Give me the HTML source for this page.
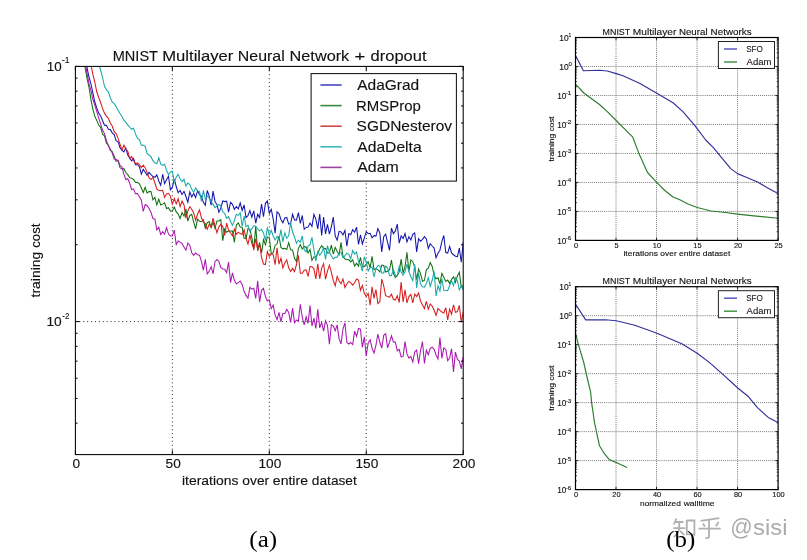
<!DOCTYPE html>
<html><head><meta charset="utf-8"><style>
html,body{margin:0;padding:0;background:#fff;width:807px;height:560px;overflow:hidden}
svg{display:block;will-change:transform}
text{font-family:"Liberation Sans", sans-serif}
</style></head><body>
<svg width="807" height="560" viewBox="0 0 807 560">
<rect x="0" y="0" width="807" height="560" fill="#fff"/>
<g stroke="#222" stroke-width="0.9" stroke-dasharray="1.1 2.8" fill="none"><line x1="172.35" y1="66.4" x2="172.35" y2="454.6"/><line x1="269.30" y1="66.4" x2="269.30" y2="454.6"/><line x1="366.25" y1="66.4" x2="366.25" y2="454.6"/><line x1="75.4" y1="321.60" x2="463.2" y2="321.60"/></g>
<clipPath id="cl"><rect x="75.4" y="66.4" width="387.79999999999995" height="388.20000000000005"/></clipPath>
<g clip-path="url(#cl)" fill="none" stroke-width="1.05" stroke-linejoin="miter">
<polyline points="75.40,2.68 77.34,14.10 79.28,24.73 81.22,34.99 83.16,45.98 85.09,56.49 87.03,67.72 88.97,77.00 90.91,83.76 92.85,92.89 94.79,102.01 96.73,107.88 98.67,113.09 100.61,115.81 102.55,120.44 104.48,125.22 106.42,125.37 108.36,129.35 110.30,129.51 112.24,132.85 114.18,134.61 116.12,140.62 118.06,141.85 120.00,147.65 121.94,150.21 123.88,151.91 125.81,147.98 127.75,155.15 129.69,158.01 131.63,160.86 133.57,158.55 135.51,164.64 137.45,164.68 139.39,166.69 141.33,174.12 143.26,169.27 145.20,172.21 147.14,175.36 149.08,172.42 151.02,174.62 152.96,176.56 154.90,177.31 156.84,174.88 158.78,180.98 160.72,185.30 162.65,174.22 164.59,183.64 166.53,179.69 168.47,176.25 170.41,189.87 172.35,187.35 174.29,179.24 176.23,186.52 178.17,192.66 180.11,190.52 182.04,194.42 183.98,191.40 185.92,196.46 187.86,202.20 189.80,191.90 191.74,197.02 193.68,193.43 195.62,197.55 197.56,190.68 199.50,194.72 201.44,195.99 203.37,202.34 205.31,205.21 207.25,190.53 209.19,196.02 211.13,205.21 213.07,191.18 215.01,201.47 216.95,204.59 218.89,212.28 220.82,208.17 222.76,201.03 224.70,201.62 226.64,201.07 228.58,212.06 230.52,202.27 232.46,204.29 234.40,209.31 236.34,206.53 238.28,208.88 240.21,202.88 242.15,210.47 244.09,205.01 246.03,217.66 247.97,215.53 249.91,210.62 251.85,217.09 253.79,210.93 255.73,223.10 257.67,214.27 259.60,217.62 261.54,204.04 263.48,216.74 265.42,203.33 267.36,201.03 269.30,213.25 271.24,209.30 273.18,218.94 275.12,233.14 277.06,211.77 279.00,213.58 280.93,219.50 282.87,222.73 284.81,217.96 286.75,217.50 288.69,224.09 290.63,223.44 292.57,214.28 294.51,219.94 296.45,220.14 298.38,212.55 300.32,223.36 302.26,215.49 304.20,229.27 306.14,227.44 308.08,227.14 310.02,223.13 311.96,226.25 313.90,214.37 315.84,219.15 317.77,228.82 319.71,213.99 321.65,235.43 323.59,217.17 325.53,233.92 327.47,224.30 329.41,234.24 331.35,226.85 333.29,216.99 335.23,236.10 337.16,240.13 339.10,231.34 341.04,231.94 342.98,234.95 344.92,230.47 346.86,246.25 348.80,233.64 350.74,234.65 352.68,229.67 354.62,232.20 356.55,227.07 358.49,244.50 360.43,234.79 362.37,243.91 364.31,237.93 366.25,231.72 368.19,233.71 370.13,233.32 372.07,237.85 374.01,235.63 375.94,236.07 377.88,228.64 379.82,232.94 381.76,251.89 383.70,236.67 385.64,234.25 387.58,242.26 389.52,250.39 391.46,228.08 393.40,233.68 395.33,231.15 397.27,224.06 399.21,243.23 401.15,235.99 403.09,238.40 405.03,233.53 406.97,241.93 408.91,236.69 410.85,240.00 412.79,234.33 414.72,232.95 416.66,251.87 418.60,238.64 420.54,241.31 422.48,239.42 424.42,236.68 426.36,238.98 428.30,248.55 430.24,243.77 432.18,245.99 434.11,248.08 436.05,257.67 437.99,253.18 439.93,250.18 441.87,241.65 443.81,235.44 445.75,252.52 447.69,253.07 449.63,246.41 451.57,253.01 453.50,254.74 455.44,256.23 457.38,256.73 459.32,248.16 461.26,262.22 463.20,242.32" stroke="#1414b0"/>
<polyline points="75.40,-2.84 77.34,12.20 79.28,25.52 81.22,38.22 83.16,52.40 85.09,67.72 87.03,78.33 88.97,87.12 90.91,99.38 92.85,108.83 94.79,116.26 96.73,120.34 98.67,125.03 100.61,127.32 102.55,134.22 104.48,135.78 106.42,143.19 108.36,144.95 110.30,150.49 112.24,151.58 114.18,156.08 116.12,161.28 118.06,160.61 120.00,167.77 121.94,168.92 123.88,168.65 125.81,172.55 127.75,174.69 129.69,177.63 131.63,178.19 133.57,179.38 135.51,182.52 137.45,182.35 139.39,183.87 141.33,187.96 143.26,192.53 145.20,187.36 147.14,193.06 149.08,191.41 151.02,191.70 152.96,199.82 154.90,197.34 156.84,204.89 158.78,199.17 160.72,205.04 162.65,204.11 164.59,202.72 166.53,208.51 168.47,207.70 170.41,211.24 172.35,210.72 174.29,207.10 176.23,211.93 178.17,214.06 180.11,218.45 182.04,212.59 183.98,216.04 185.92,208.90 187.86,221.15 189.80,215.46 191.74,214.25 193.68,222.23 195.62,228.96 197.56,219.09 199.50,221.28 201.44,221.75 203.37,219.59 205.31,228.28 207.25,222.69 209.19,221.49 211.13,227.61 213.07,222.39 215.01,228.36 216.95,220.99 218.89,220.90 220.82,219.58 222.76,240.70 224.70,228.94 226.64,232.21 228.58,230.76 230.52,231.10 232.46,231.14 234.40,242.38 236.34,224.89 238.28,223.00 240.21,227.04 242.15,227.29 244.09,238.22 246.03,238.59 247.97,228.75 249.91,229.35 251.85,237.95 253.79,249.22 255.73,226.32 257.67,250.97 259.60,242.33 261.54,252.86 263.48,239.63 265.42,244.76 267.36,236.83 269.30,237.52 271.24,253.76 273.18,252.59 275.12,245.47 277.06,243.77 279.00,236.07 280.93,247.42 282.87,248.83 284.81,248.40 286.75,249.48 288.69,242.64 290.63,249.84 292.57,250.13 294.51,258.25 296.45,261.50 298.38,248.30 300.32,244.76 302.26,248.92 304.20,246.66 306.14,247.07 308.08,252.94 310.02,249.49 311.96,260.39 313.90,256.80 315.84,257.25 317.77,253.39 319.71,248.70 321.65,245.76 323.59,248.49 325.53,248.57 327.47,252.99 329.41,252.96 331.35,245.06 333.29,254.00 335.23,247.40 337.16,251.56 339.10,254.78 341.04,242.41 342.98,256.35 344.92,259.06 346.86,259.40 348.80,259.83 350.74,261.93 352.68,259.73 354.62,266.06 356.55,263.27 358.49,266.10 360.43,257.28 362.37,266.31 364.31,266.60 366.25,264.13 368.19,261.72 370.13,267.76 372.07,256.45 374.01,269.65 375.94,268.63 377.88,269.59 379.82,271.96 381.76,265.04 383.70,265.44 385.64,272.03 387.58,271.37 389.52,269.78 391.46,260.02 393.40,273.29 395.33,277.62 397.27,275.52 399.21,271.95 401.15,259.17 403.09,272.86 405.03,266.40 406.97,252.28 408.91,271.48 410.85,259.97 412.79,261.68 414.72,267.20 416.66,279.78 418.60,269.02 420.54,273.55 422.48,281.26 424.42,280.47 426.36,269.55 428.30,268.24 430.24,262.54 432.18,266.51 434.11,275.15 436.05,278.81 437.99,277.80 439.93,283.86 441.87,273.41 443.81,277.32 445.75,281.45 447.69,280.12 449.63,283.35 451.57,279.39 453.50,276.90 455.44,282.39 457.38,275.93 459.32,272.29 461.26,287.23 463.20,285.59" stroke="#107010"/>
<polyline points="75.40,-28.45 77.34,-17.14 79.28,-4.38 81.22,6.81 83.16,18.40 85.09,30.08 87.03,40.33 88.97,53.14 90.91,64.58 92.85,74.31 94.79,82.11 96.73,91.76 98.67,97.21 100.61,102.47 102.55,108.34 104.48,113.15 106.42,116.14 108.36,118.28 110.30,123.03 112.24,125.97 114.18,131.69 116.12,133.53 118.06,138.10 120.00,144.14 121.94,150.18 123.88,145.00 125.81,149.17 127.75,151.27 129.69,158.44 131.63,156.70 133.57,160.44 135.51,163.76 137.45,162.90 139.39,164.48 141.33,167.61 143.26,165.18 145.20,167.66 147.14,172.61 149.08,177.96 151.02,179.55 152.96,177.22 154.90,182.97 156.84,189.21 158.78,190.37 160.72,190.72 162.65,190.35 164.59,197.42 166.53,193.91 168.47,193.29 170.41,196.23 172.35,204.11 174.29,198.62 176.23,203.85 178.17,198.71 180.11,206.70 182.04,201.13 183.98,204.65 185.92,218.19 187.86,210.92 189.80,206.78 191.74,209.22 193.68,212.91 195.62,220.06 197.56,214.22 199.50,209.79 201.44,217.82 203.37,222.17 205.31,223.47 207.25,229.17 209.19,224.22 211.13,226.92 213.07,218.01 215.01,226.04 216.95,232.74 218.89,226.78 220.82,224.59 222.76,226.38 224.70,235.37 226.64,223.08 228.58,230.36 230.52,233.05 232.46,235.83 234.40,229.22 236.34,234.30 238.28,232.12 240.21,233.61 242.15,234.26 244.09,229.72 246.03,238.30 247.97,244.01 249.91,235.14 251.85,243.40 253.79,249.19 255.73,238.90 257.67,249.49 259.60,243.98 261.54,257.37 263.48,263.95 265.42,264.47 267.36,251.63 269.30,256.36 271.24,253.88 273.18,254.62 275.12,264.77 277.06,247.81 279.00,264.08 280.93,258.33 282.87,267.95 284.81,263.05 286.75,259.84 288.69,267.79 290.63,271.43 292.57,268.36 294.51,271.64 296.45,264.62 298.38,255.40 300.32,273.24 302.26,273.29 304.20,270.29 306.14,269.82 308.08,276.35 310.02,266.50 311.96,266.74 313.90,268.81 315.84,279.02 317.77,263.70 319.71,278.79 321.65,268.08 323.59,263.68 325.53,279.24 327.47,271.08 329.41,265.21 331.35,272.20 333.29,280.49 335.23,285.79 337.16,276.39 339.10,280.94 341.04,283.60 342.98,278.99 344.92,287.46 346.86,284.05 348.80,281.41 350.74,282.67 352.68,285.10 354.62,282.76 356.55,279.08 358.49,280.09 360.43,290.37 362.37,285.44 364.31,293.33 366.25,296.58 368.19,293.40 370.13,305.09 372.07,286.90 374.01,298.44 375.94,289.51 377.88,303.58 379.82,301.84 381.76,279.07 383.70,285.83 385.64,295.63 387.58,296.51 389.52,297.15 391.46,294.19 393.40,299.28 395.33,300.07 397.27,295.84 399.21,302.55 401.15,282.05 403.09,301.96 405.03,289.80 406.97,302.94 408.91,296.56 410.85,294.32 412.79,303.01 414.72,294.12 416.66,296.46 418.60,293.02 420.54,301.10 422.48,304.94 424.42,308.54 426.36,301.28 428.30,309.25 430.24,303.89 432.18,306.07 434.11,310.31 436.05,315.30 437.99,308.56 439.93,310.38 441.87,311.97 443.81,312.97 445.75,307.57 447.69,319.85 449.63,309.16 451.57,314.10 453.50,304.82 455.44,312.38 457.38,311.60 459.32,305.46 461.26,322.22 463.20,312.17" stroke="#d81c1c"/>
<polyline points="75.40,-46.40 77.34,-36.70 79.28,-27.36 81.22,-18.84 83.16,-9.73 85.09,-0.98 87.03,8.70 88.97,17.51 90.91,26.98 92.85,36.89 94.79,45.23 96.73,53.46 98.67,63.09 100.61,70.25 102.55,77.40 104.48,86.34 106.42,89.68 108.36,91.89 110.30,97.72 112.24,101.97 114.18,103.64 116.12,106.64 118.06,110.20 120.00,113.59 121.94,116.53 123.88,120.14 125.81,122.41 127.75,124.85 129.69,127.25 131.63,129.23 133.57,128.15 135.51,133.98 137.45,138.19 139.39,139.69 141.33,145.45 143.26,144.97 145.20,146.36 147.14,153.75 149.08,154.98 151.02,156.91 152.96,160.71 154.90,162.97 156.84,163.55 158.78,157.76 160.72,164.07 162.65,165.36 164.59,164.20 166.53,170.23 168.47,174.74 170.41,171.90 172.35,171.13 174.29,181.97 176.23,177.19 178.17,174.33 180.11,179.09 182.04,181.63 183.98,179.37 185.92,186.02 187.86,183.04 189.80,184.55 191.74,189.37 193.68,192.47 195.62,187.81 197.56,191.09 199.50,191.39 201.44,201.29 203.37,190.43 205.31,199.12 207.25,196.00 209.19,197.87 211.13,201.76 213.07,204.36 215.01,207.64 216.95,206.09 218.89,204.37 220.82,205.77 222.76,211.68 224.70,213.47 226.64,218.28 228.58,216.71 230.52,221.54 232.46,225.33 234.40,220.60 236.34,214.29 238.28,215.39 240.21,212.79 242.15,226.27 244.09,216.02 246.03,226.84 247.97,225.10 249.91,231.42 251.85,228.65 253.79,225.55 255.73,226.37 257.67,229.01 259.60,230.86 261.54,229.37 263.48,232.94 265.42,240.53 267.36,227.39 269.30,235.05 271.24,230.40 273.18,236.04 275.12,239.95 277.06,236.32 279.00,239.67 280.93,229.63 282.87,242.00 284.81,232.90 286.75,238.28 288.69,235.80 290.63,222.60 292.57,232.02 294.51,237.01 296.45,243.34 298.38,240.22 300.32,242.19 302.26,236.01 304.20,249.67 306.14,251.95 308.08,246.00 310.02,244.72 311.96,237.29 313.90,249.73 315.84,261.10 317.77,251.59 319.71,255.20 321.65,252.65 323.59,247.48 325.53,259.39 327.47,245.59 329.41,252.46 331.35,255.82 333.29,258.97 335.23,257.37 337.16,257.14 339.10,253.11 341.04,252.37 342.98,257.74 344.92,255.66 346.86,253.11 348.80,254.43 350.74,258.88 352.68,250.47 354.62,254.05 356.55,252.06 358.49,261.61 360.43,263.89 362.37,271.20 364.31,256.76 366.25,262.14 368.19,270.88 370.13,267.63 372.07,266.90 374.01,277.02 375.94,268.87 377.88,265.56 379.82,265.97 381.76,272.89 383.70,272.90 385.64,266.04 387.58,267.80 389.52,275.60 391.46,275.50 393.40,269.45 395.33,275.25 397.27,275.92 399.21,266.24 401.15,271.94 403.09,275.16 405.03,271.73 406.97,264.05 408.91,271.55 410.85,276.75 412.79,280.66 414.72,264.35 416.66,287.86 418.60,272.87 420.54,284.00 422.48,286.81 424.42,287.08 426.36,283.40 428.30,277.69 430.24,286.40 432.18,280.28 434.11,271.22 436.05,295.92 437.99,285.72 439.93,290.86 441.87,278.49 443.81,290.36 445.75,290.41 447.69,290.76 449.63,285.46 451.57,280.86 453.50,285.65 455.44,277.70 457.38,280.94 459.32,289.93 461.26,285.62 463.20,289.93" stroke="#18a8a8"/>
<polyline points="75.40,0.90 77.34,11.60 79.28,24.23 81.22,38.33 83.16,49.51 85.09,62.20 87.03,73.37 88.97,83.84 90.91,90.04 92.85,99.46 94.79,105.18 96.73,111.30 98.67,117.80 100.61,123.96 102.55,130.08 104.48,133.60 106.42,140.53 108.36,145.91 110.30,148.95 112.24,153.07 114.18,158.95 116.12,159.41 118.06,160.41 120.00,165.53 121.94,166.84 123.88,174.18 125.81,179.54 127.75,178.75 129.69,183.20 131.63,189.51 133.57,189.02 135.51,193.64 137.45,193.46 139.39,196.75 141.33,200.22 143.26,211.47 145.20,204.58 147.14,205.67 149.08,208.40 151.02,212.47 152.96,218.51 154.90,219.17 156.84,229.95 158.78,227.29 160.72,234.44 162.65,231.69 164.59,234.22 166.53,227.68 168.47,234.05 170.41,235.97 172.35,236.07 174.29,230.10 176.23,244.58 178.17,241.00 180.11,242.10 182.04,243.65 183.98,247.01 185.92,250.27 187.86,243.11 189.80,245.19 191.74,252.69 193.68,255.38 195.62,253.10 197.56,254.65 199.50,255.15 201.44,261.44 203.37,270.16 205.31,259.22 207.25,273.93 209.19,271.36 211.13,266.54 213.07,273.76 215.01,261.72 216.95,259.51 218.89,261.50 220.82,267.47 222.76,269.01 224.70,269.21 226.64,272.63 228.58,262.15 230.52,282.58 232.46,272.93 234.40,280.38 236.34,283.81 238.28,282.59 240.21,280.97 242.15,284.41 244.09,291.32 246.03,295.42 247.97,298.26 249.91,287.36 251.85,289.12 253.79,288.33 255.73,298.36 257.67,280.88 259.60,301.88 261.54,290.34 263.48,288.40 265.42,296.67 267.36,300.95 269.30,299.82 271.24,308.61 273.18,305.03 275.12,315.16 277.06,319.66 279.00,312.46 280.93,321.94 282.87,313.32 284.81,313.70 286.75,309.30 288.69,312.50 290.63,322.43 292.57,308.19 294.51,322.66 296.45,320.09 298.38,320.74 300.32,304.29 302.26,317.25 304.20,324.96 306.14,316.82 308.08,323.43 310.02,305.46 311.96,326.07 313.90,318.10 315.84,328.45 317.77,309.35 319.71,327.91 321.65,322.52 323.59,331.22 325.53,320.78 327.47,325.41 329.41,344.30 331.35,324.66 333.29,326.05 335.23,330.76 337.16,324.83 339.10,338.84 341.04,343.93 342.98,328.78 344.92,322.91 346.86,342.57 348.80,344.00 350.74,342.45 352.68,344.59 354.62,331.10 356.55,336.40 358.49,328.50 360.43,329.23 362.37,347.33 364.31,336.90 366.25,356.00 368.19,342.63 370.13,339.71 372.07,348.22 374.01,353.11 375.94,345.02 377.88,334.11 379.82,342.27 381.76,348.16 383.70,335.33 385.64,333.80 387.58,347.88 389.52,342.15 391.46,335.78 393.40,341.95 395.33,342.11 397.27,350.79 399.21,349.35 401.15,356.97 403.09,356.42 405.03,341.66 406.97,353.88 408.91,358.22 410.85,356.42 412.79,361.98 414.72,351.71 416.66,350.07 418.60,363.79 420.54,350.52 422.48,341.53 424.42,363.35 426.36,350.21 428.30,354.74 430.24,348.32 432.18,347.21 434.11,349.31 436.05,354.94 437.99,358.89 439.93,337.63 441.87,358.28 443.81,347.84 445.75,349.47 447.69,360.71 449.63,357.94 451.57,348.67 453.50,371.88 455.44,352.16 457.38,359.45 459.32,360.98 461.26,368.80 463.20,356.95" stroke="#a818b0"/>
</g>
<rect x="75.4" y="66.4" width="387.80" height="388.20" fill="none" stroke="#000" stroke-width="1.05"/>
<path d="M75.40,454.6v-4.3M75.40,66.4v4.3M172.35,454.6v-4.3M172.35,66.4v4.3M269.30,454.6v-4.3M269.30,66.4v4.3M366.25,454.6v-4.3M366.25,66.4v4.3M463.20,454.6v-4.3M463.20,66.4v4.3M75.4,66.40h4.3M463.2,66.40h-4.3M75.4,321.60h4.3M463.2,321.60h-4.3M75.4,244.78h2.2M463.2,244.78h-2.2M75.4,199.84h2.2M463.2,199.84h-2.2M75.4,167.95h2.2M463.2,167.95h-2.2M75.4,143.22h2.2M463.2,143.22h-2.2M75.4,123.02h2.2M463.2,123.02h-2.2M75.4,105.93h2.2M463.2,105.93h-2.2M75.4,91.13h2.2M463.2,91.13h-2.2M75.4,78.08h2.2M463.2,78.08h-2.2M75.4,423.15h2.2M463.2,423.15h-2.2M75.4,398.42h2.2M463.2,398.42h-2.2M75.4,378.22h2.2M463.2,378.22h-2.2M75.4,361.13h2.2M463.2,361.13h-2.2M75.4,346.33h2.2M463.2,346.33h-2.2M75.4,333.28h2.2M463.2,333.28h-2.2" stroke="#000" stroke-width="1" fill="none"/>
<text x="112.71" y="61.40" font-size="14.90" textLength="45.31" lengthAdjust="spacingAndGlyphs" fill="#111" stroke="#111" stroke-width="0.12" style='font-family:"Liberation Sans", sans-serif' >MNIST</text><text x="162.23" y="61.40" font-size="14.90" textLength="71.19" lengthAdjust="spacingAndGlyphs" fill="#111" stroke="#111" stroke-width="0.12" style='font-family:"Liberation Sans", sans-serif' >Multilayer</text><text x="237.80" y="61.40" font-size="14.90" textLength="46.88" lengthAdjust="spacingAndGlyphs" fill="#111" stroke="#111" stroke-width="0.12" style='font-family:"Liberation Sans", sans-serif' >Neural</text><text x="289.59" y="61.40" font-size="14.90" textLength="59.68" lengthAdjust="spacingAndGlyphs" fill="#111" stroke="#111" stroke-width="0.12" style='font-family:"Liberation Sans", sans-serif' >Network</text><text x="354.50" y="61.40" font-size="14.90" textLength="10.78" lengthAdjust="spacingAndGlyphs" fill="#111" stroke="#111" stroke-width="0.12" style='font-family:"Liberation Sans", sans-serif' >+</text><text x="370.54" y="61.40" font-size="14.90" textLength="55.98" lengthAdjust="spacingAndGlyphs" fill="#111" stroke="#111" stroke-width="0.12" style='font-family:"Liberation Sans", sans-serif' >dropout</text>
<rect x="311.1" y="73.6" width="145.3" height="107.5" fill="#fff" stroke="#111" stroke-width="1.05"/>
<line x1="320.4" y1="85.0" x2="341.7" y2="85.0" stroke="#4848c8" stroke-width="1.6"/>
<text x="357.27" y="89.80" font-size="14.80" textLength="61.98" lengthAdjust="spacingAndGlyphs" fill="#111" stroke="#111" stroke-width="0.12" style='font-family:"Liberation Sans", sans-serif' >AdaGrad</text>
<line x1="320.4" y1="105.6" x2="341.7" y2="105.6" stroke="#3a8a3a" stroke-width="1.6"/>
<text x="356.07" y="110.50" font-size="14.80" textLength="64.86" lengthAdjust="spacingAndGlyphs" fill="#111" stroke="#111" stroke-width="0.12" style='font-family:"Liberation Sans", sans-serif' >RMSProp</text>
<line x1="320.4" y1="126.2" x2="341.7" y2="126.2" stroke="#d04848" stroke-width="1.6"/>
<text x="356.60" y="131.20" font-size="14.80" textLength="95.46" lengthAdjust="spacingAndGlyphs" fill="#111" stroke="#111" stroke-width="0.12" style='font-family:"Liberation Sans", sans-serif' >SGDNesterov</text>
<line x1="320.4" y1="146.8" x2="341.7" y2="146.8" stroke="#38bcbc" stroke-width="1.6"/>
<text x="357.27" y="151.80" font-size="14.80" textLength="64.33" lengthAdjust="spacingAndGlyphs" fill="#111" stroke="#111" stroke-width="0.12" style='font-family:"Liberation Sans", sans-serif' >AdaDelta</text>
<line x1="320.4" y1="167.4" x2="341.7" y2="167.4" stroke="#a040a0" stroke-width="1.6"/>
<text x="357.27" y="172.40" font-size="14.80" textLength="41.48" lengthAdjust="spacingAndGlyphs" fill="#111" stroke="#111" stroke-width="0.12" style='font-family:"Liberation Sans", sans-serif' >Adam</text>
<text x="72.50" y="467.50" font-size="12.00" textLength="7.61" lengthAdjust="spacingAndGlyphs" fill="#111" stroke="#111" stroke-width="0.12" style='font-family:"Liberation Sans", sans-serif' >0</text>
<text x="165.64" y="467.50" font-size="12.00" textLength="15.22" lengthAdjust="spacingAndGlyphs" fill="#111" stroke="#111" stroke-width="0.12" style='font-family:"Liberation Sans", sans-serif' >50</text>
<text x="258.53" y="467.50" font-size="12.00" textLength="22.82" lengthAdjust="spacingAndGlyphs" fill="#111" stroke="#111" stroke-width="0.12" style='font-family:"Liberation Sans", sans-serif' >100</text>
<text x="355.48" y="467.50" font-size="12.00" textLength="22.82" lengthAdjust="spacingAndGlyphs" fill="#111" stroke="#111" stroke-width="0.12" style='font-family:"Liberation Sans", sans-serif' >150</text>
<text x="452.61" y="467.50" font-size="12.00" textLength="22.82" lengthAdjust="spacingAndGlyphs" fill="#111" stroke="#111" stroke-width="0.12" style='font-family:"Liberation Sans", sans-serif' >200</text>
<text x="46.88" y="70.80" font-size="12.40" textLength="14.95" lengthAdjust="spacingAndGlyphs" fill="#111" stroke="#111" stroke-width="0.12" style='font-family:"Liberation Sans", sans-serif' >10</text>
<text x="61.91" y="63.40" font-size="8.60" textLength="7.71" lengthAdjust="spacingAndGlyphs" fill="#111" stroke="#111" stroke-width="0.12" style='font-family:"Liberation Sans", sans-serif' >-1</text>
<text x="46.45" y="326.00" font-size="12.40" textLength="15.28" lengthAdjust="spacingAndGlyphs" fill="#111" stroke="#111" stroke-width="0.12" style='font-family:"Liberation Sans", sans-serif' >10</text>
<text x="62.35" y="319.00" font-size="8.60" textLength="7.05" lengthAdjust="spacingAndGlyphs" fill="#111" stroke="#111" stroke-width="0.12" style='font-family:"Liberation Sans", sans-serif' >-2</text>
<text x="181.97" y="484.50" font-size="12.20" textLength="56.46" lengthAdjust="spacingAndGlyphs" fill="#111" stroke="#111" stroke-width="0.12" style='font-family:"Liberation Sans", sans-serif' >iterations</text><text x="242.39" y="484.50" font-size="12.20" textLength="26.81" lengthAdjust="spacingAndGlyphs" fill="#111" stroke="#111" stroke-width="0.12" style='font-family:"Liberation Sans", sans-serif' >over</text><text x="272.83" y="484.50" font-size="12.20" textLength="35.14" lengthAdjust="spacingAndGlyphs" fill="#111" stroke="#111" stroke-width="0.12" style='font-family:"Liberation Sans", sans-serif' >entire</text><text x="311.87" y="484.50" font-size="12.20" textLength="44.93" lengthAdjust="spacingAndGlyphs" fill="#111" stroke="#111" stroke-width="0.12" style='font-family:"Liberation Sans", sans-serif' >dataset</text>
<g transform="translate(39.6,260.4) rotate(-90)"><text x="-37.01" y="0.00" font-size="12.20" textLength="45.58" lengthAdjust="spacingAndGlyphs" fill="#111" stroke="#111" stroke-width="0.12" style='font-family:"Liberation Sans", sans-serif' >training</text><text x="12.61" y="0.00" font-size="12.20" textLength="24.29" lengthAdjust="spacingAndGlyphs" fill="#111" stroke="#111" stroke-width="0.12" style='font-family:"Liberation Sans", sans-serif' >cost</text></g>
<text x="249.30" y="547.20" font-size="23.50" textLength="27.80" lengthAdjust="spacingAndGlyphs" fill="#000" stroke="#000" stroke-width="0" style='font-family:"Liberation Serif", serif' >(a)</text>
<g stroke="#6a6a6a" stroke-width="0.9" stroke-dasharray="1 1.05" fill="none"><line x1="616.02" y1="37.5" x2="616.02" y2="240.4"/><line x1="656.54" y1="37.5" x2="656.54" y2="240.4"/><line x1="697.06" y1="37.5" x2="697.06" y2="240.4"/><line x1="737.58" y1="37.5" x2="737.58" y2="240.4"/><line x1="575.5" y1="211.41" x2="778.1" y2="211.41"/><line x1="575.5" y1="182.43" x2="778.1" y2="182.43"/><line x1="575.5" y1="153.44" x2="778.1" y2="153.44"/><line x1="575.5" y1="124.46" x2="778.1" y2="124.46"/><line x1="575.5" y1="95.47" x2="778.1" y2="95.47"/><line x1="575.5" y1="66.49" x2="778.1" y2="66.49"/></g>
<polyline points="575.50,55.60 583.40,70.80 599.60,70.30 607.30,71.00 616.20,73.60 623.00,75.70 640.00,83.50 656.40,93.00 673.00,102.80 682.90,111.60 694.70,125.40 705.70,140.00 712.90,147.10 721.80,157.90 730.70,168.60 737.50,173.60 746.80,177.50 757.50,182.00 768.20,188.20 778.00,193.60" fill="none" stroke="#30309c" stroke-width="1.15" stroke-linejoin="round"/>
<polyline points="575.50,84.10 583.80,93.00 599.50,104.50 607.30,111.60 616.20,120.50 624.00,128.40 632.80,137.20 638.70,152.90 647.50,172.50 656.70,182.30 664.80,190.50 673.00,197.00 679.80,199.80 687.90,204.00 697.30,207.50 711.00,211.00 723.60,212.30 737.50,214.10 753.90,215.90 778.00,218.20" fill="none" stroke="#2e7c2e" stroke-width="1.15" stroke-linejoin="round"/>
<rect x="575.5" y="37.5" width="202.60" height="202.90" fill="none" stroke="#000" stroke-width="1.2"/>
<path d="M575.50,240.4v-2.8M575.50,37.5v2.8M616.02,240.4v-2.8M616.02,37.5v2.8M656.54,240.4v-2.8M656.54,37.5v2.8M697.06,240.4v-2.8M697.06,37.5v2.8M737.58,240.4v-2.8M737.58,37.5v2.8M778.10,240.4v-2.8M778.10,37.5v2.8M575.5,240.40h2.8M778.1,240.40h-2.8M575.5,211.41h2.8M778.1,211.41h-2.8M575.5,182.43h2.8M778.1,182.43h-2.8M575.5,153.44h2.8M778.1,153.44h-2.8M575.5,124.46h2.8M778.1,124.46h-2.8M575.5,95.47h2.8M778.1,95.47h-2.8M575.5,66.49h2.8M778.1,66.49h-2.8M575.5,37.50h2.8M778.1,37.50h-2.8M575.5,231.67h1.4M778.1,231.67h-1.4M575.5,226.57h1.4M778.1,226.57h-1.4M575.5,222.95h1.4M778.1,222.95h-1.4M575.5,220.14h1.4M778.1,220.14h-1.4M575.5,217.84h1.4M778.1,217.84h-1.4M575.5,215.90h1.4M778.1,215.90h-1.4M575.5,214.22h1.4M778.1,214.22h-1.4M575.5,212.74h1.4M778.1,212.74h-1.4M575.5,202.69h1.4M778.1,202.69h-1.4M575.5,197.58h1.4M778.1,197.58h-1.4M575.5,193.96h1.4M778.1,193.96h-1.4M575.5,191.15h1.4M778.1,191.15h-1.4M575.5,188.86h1.4M778.1,188.86h-1.4M575.5,186.92h1.4M778.1,186.92h-1.4M575.5,185.24h1.4M778.1,185.24h-1.4M575.5,183.75h1.4M778.1,183.75h-1.4M575.5,173.70h1.4M778.1,173.70h-1.4M575.5,168.60h1.4M778.1,168.60h-1.4M575.5,164.98h1.4M778.1,164.98h-1.4M575.5,162.17h1.4M778.1,162.17h-1.4M575.5,159.87h1.4M778.1,159.87h-1.4M575.5,157.93h1.4M778.1,157.93h-1.4M575.5,156.25h1.4M778.1,156.25h-1.4M575.5,154.77h1.4M778.1,154.77h-1.4M575.5,144.72h1.4M778.1,144.72h-1.4M575.5,139.61h1.4M778.1,139.61h-1.4M575.5,135.99h1.4M778.1,135.99h-1.4M575.5,133.18h1.4M778.1,133.18h-1.4M575.5,130.89h1.4M778.1,130.89h-1.4M575.5,128.95h1.4M778.1,128.95h-1.4M575.5,127.27h1.4M778.1,127.27h-1.4M575.5,125.78h1.4M778.1,125.78h-1.4M575.5,115.73h1.4M778.1,115.73h-1.4M575.5,110.63h1.4M778.1,110.63h-1.4M575.5,107.01h1.4M778.1,107.01h-1.4M575.5,104.20h1.4M778.1,104.20h-1.4M575.5,101.90h1.4M778.1,101.90h-1.4M575.5,99.96h1.4M778.1,99.96h-1.4M575.5,98.28h1.4M778.1,98.28h-1.4M575.5,96.80h1.4M778.1,96.80h-1.4M575.5,86.75h1.4M778.1,86.75h-1.4M575.5,81.64h1.4M778.1,81.64h-1.4M575.5,78.02h1.4M778.1,78.02h-1.4M575.5,75.21h1.4M778.1,75.21h-1.4M575.5,72.92h1.4M778.1,72.92h-1.4M575.5,70.98h1.4M778.1,70.98h-1.4M575.5,69.29h1.4M778.1,69.29h-1.4M575.5,67.81h1.4M778.1,67.81h-1.4M575.5,57.76h1.4M778.1,57.76h-1.4M575.5,52.66h1.4M778.1,52.66h-1.4M575.5,49.03h1.4M778.1,49.03h-1.4M575.5,46.23h1.4M778.1,46.23h-1.4M575.5,43.93h1.4M778.1,43.93h-1.4M575.5,41.99h1.4M778.1,41.99h-1.4M575.5,40.31h1.4M778.1,40.31h-1.4M575.5,38.83h1.4M778.1,38.83h-1.4" stroke="#000" stroke-width="0.8" fill="none"/>
<text x="602.57" y="34.70" font-size="8.80" textLength="27.67" lengthAdjust="spacingAndGlyphs" fill="#111" stroke="#111" stroke-width="0.12" style='font-family:"Liberation Sans", sans-serif' >MNIST</text><text x="632.82" y="34.70" font-size="8.80" textLength="43.47" lengthAdjust="spacingAndGlyphs" fill="#111" stroke="#111" stroke-width="0.12" style='font-family:"Liberation Sans", sans-serif' >Multilayer</text><text x="678.96" y="34.70" font-size="8.80" textLength="28.63" lengthAdjust="spacingAndGlyphs" fill="#111" stroke="#111" stroke-width="0.12" style='font-family:"Liberation Sans", sans-serif' >Neural</text><text x="710.60" y="34.70" font-size="8.80" textLength="40.96" lengthAdjust="spacingAndGlyphs" fill="#111" stroke="#111" stroke-width="0.12" style='font-family:"Liberation Sans", sans-serif' >Networks</text>
<rect x="718.4" y="41.5" width="56.1" height="27" fill="#fff" stroke="#222" stroke-width="1"/>
<line x1="724" y1="49" x2="737" y2="49" stroke="#6262c4" stroke-width="1.6"/>
<line x1="724" y1="62" x2="737" y2="62" stroke="#559a55" stroke-width="1.6"/>
<text x="746.23" y="51.90" font-size="8.80" textLength="16.66" lengthAdjust="spacingAndGlyphs" fill="#222" stroke="#222" stroke-width="0.12" style='font-family:"Liberation Sans", sans-serif' >SFO</text>
<text x="746.58" y="64.90" font-size="8.80" textLength="24.85" lengthAdjust="spacingAndGlyphs" fill="#222" stroke="#222" stroke-width="0.12" style='font-family:"Liberation Sans", sans-serif' >Adam</text>
<text x="559.36" y="40.80" font-size="8.20" textLength="9.37" lengthAdjust="spacingAndGlyphs" fill="#111" stroke="#111" stroke-width="0.12" style='font-family:"Liberation Sans", sans-serif' >10</text>
<text x="568.53" y="37.10" font-size="6.20" textLength="2.71" lengthAdjust="spacingAndGlyphs" fill="#111" stroke="#111" stroke-width="0.12" style='font-family:"Liberation Sans", sans-serif' >1</text>
<text x="559.36" y="69.79" font-size="8.20" textLength="9.37" lengthAdjust="spacingAndGlyphs" fill="#111" stroke="#111" stroke-width="0.12" style='font-family:"Liberation Sans", sans-serif' >10</text>
<text x="568.46" y="66.39" font-size="6.20" textLength="3.37" lengthAdjust="spacingAndGlyphs" fill="#111" stroke="#111" stroke-width="0.12" style='font-family:"Liberation Sans", sans-serif' >0</text>
<text x="557.27" y="98.77" font-size="8.20" textLength="9.15" lengthAdjust="spacingAndGlyphs" fill="#111" stroke="#111" stroke-width="0.12" style='font-family:"Liberation Sans", sans-serif' >10</text>
<text x="565.72" y="95.37" font-size="6.20" textLength="5.59" lengthAdjust="spacingAndGlyphs" fill="#111" stroke="#111" stroke-width="0.12" style='font-family:"Liberation Sans", sans-serif' >-1</text>
<text x="557.27" y="127.76" font-size="8.20" textLength="9.15" lengthAdjust="spacingAndGlyphs" fill="#111" stroke="#111" stroke-width="0.12" style='font-family:"Liberation Sans", sans-serif' >10</text>
<text x="565.72" y="124.36" font-size="6.20" textLength="5.60" lengthAdjust="spacingAndGlyphs" fill="#111" stroke="#111" stroke-width="0.12" style='font-family:"Liberation Sans", sans-serif' >-2</text>
<text x="557.27" y="156.74" font-size="8.20" textLength="9.15" lengthAdjust="spacingAndGlyphs" fill="#111" stroke="#111" stroke-width="0.12" style='font-family:"Liberation Sans", sans-serif' >10</text>
<text x="565.72" y="153.34" font-size="6.20" textLength="5.55" lengthAdjust="spacingAndGlyphs" fill="#111" stroke="#111" stroke-width="0.12" style='font-family:"Liberation Sans", sans-serif' >-3</text>
<text x="557.27" y="185.73" font-size="8.20" textLength="9.15" lengthAdjust="spacingAndGlyphs" fill="#111" stroke="#111" stroke-width="0.12" style='font-family:"Liberation Sans", sans-serif' >10</text>
<text x="565.73" y="182.33" font-size="6.20" textLength="5.45" lengthAdjust="spacingAndGlyphs" fill="#111" stroke="#111" stroke-width="0.12" style='font-family:"Liberation Sans", sans-serif' >-4</text>
<text x="557.27" y="214.71" font-size="8.20" textLength="9.15" lengthAdjust="spacingAndGlyphs" fill="#111" stroke="#111" stroke-width="0.12" style='font-family:"Liberation Sans", sans-serif' >10</text>
<text x="565.72" y="211.31" font-size="6.20" textLength="5.54" lengthAdjust="spacingAndGlyphs" fill="#111" stroke="#111" stroke-width="0.12" style='font-family:"Liberation Sans", sans-serif' >-5</text>
<text x="557.27" y="243.70" font-size="8.20" textLength="9.15" lengthAdjust="spacingAndGlyphs" fill="#111" stroke="#111" stroke-width="0.12" style='font-family:"Liberation Sans", sans-serif' >10</text>
<text x="565.72" y="240.30" font-size="6.20" textLength="5.55" lengthAdjust="spacingAndGlyphs" fill="#111" stroke="#111" stroke-width="0.12" style='font-family:"Liberation Sans", sans-serif' >-6</text>
<text x="573.94" y="247.90" font-size="7.40" textLength="4.12" lengthAdjust="spacingAndGlyphs" fill="#111" stroke="#111" stroke-width="0.12" style='font-family:"Liberation Sans", sans-serif' >0</text>
<text x="614.47" y="247.90" font-size="7.40" textLength="4.12" lengthAdjust="spacingAndGlyphs" fill="#111" stroke="#111" stroke-width="0.12" style='font-family:"Liberation Sans", sans-serif' >5</text>
<text x="652.79" y="247.90" font-size="7.40" textLength="8.23" lengthAdjust="spacingAndGlyphs" fill="#111" stroke="#111" stroke-width="0.12" style='font-family:"Liberation Sans", sans-serif' >10</text>
<text x="693.32" y="247.90" font-size="7.40" textLength="8.23" lengthAdjust="spacingAndGlyphs" fill="#111" stroke="#111" stroke-width="0.12" style='font-family:"Liberation Sans", sans-serif' >15</text>
<text x="733.92" y="247.90" font-size="7.40" textLength="8.23" lengthAdjust="spacingAndGlyphs" fill="#111" stroke="#111" stroke-width="0.12" style='font-family:"Liberation Sans", sans-serif' >20</text>
<text x="774.45" y="247.90" font-size="7.40" textLength="8.23" lengthAdjust="spacingAndGlyphs" fill="#111" stroke="#111" stroke-width="0.12" style='font-family:"Liberation Sans", sans-serif' >25</text>
<text x="623.43" y="256.30" font-size="7.70" textLength="34.50" lengthAdjust="spacingAndGlyphs" fill="#111" stroke="#111" stroke-width="0.12" style='font-family:"Liberation Sans", sans-serif' >iterations</text><text x="660.35" y="256.30" font-size="7.70" textLength="16.38" lengthAdjust="spacingAndGlyphs" fill="#111" stroke="#111" stroke-width="0.12" style='font-family:"Liberation Sans", sans-serif' >over</text><text x="678.95" y="256.30" font-size="7.70" textLength="21.47" lengthAdjust="spacingAndGlyphs" fill="#111" stroke="#111" stroke-width="0.12" style='font-family:"Liberation Sans", sans-serif' >entire</text><text x="702.81" y="256.30" font-size="7.70" textLength="27.46" lengthAdjust="spacingAndGlyphs" fill="#111" stroke="#111" stroke-width="0.12" style='font-family:"Liberation Sans", sans-serif' >dataset</text>
<g transform="translate(553.6,138.95) rotate(-90)"><text x="-22.63" y="0.00" font-size="7.70" textLength="27.87" lengthAdjust="spacingAndGlyphs" fill="#111" stroke="#111" stroke-width="0.12" style='font-family:"Liberation Sans", sans-serif' >training</text><text x="7.71" y="0.00" font-size="7.70" textLength="14.85" lengthAdjust="spacingAndGlyphs" fill="#111" stroke="#111" stroke-width="0.12" style='font-family:"Liberation Sans", sans-serif' >cost</text></g>
<g stroke="#6a6a6a" stroke-width="0.9" stroke-dasharray="1 1.05" fill="none"><line x1="616.02" y1="286.7" x2="616.02" y2="489.6"/><line x1="656.54" y1="286.7" x2="656.54" y2="489.6"/><line x1="697.06" y1="286.7" x2="697.06" y2="489.6"/><line x1="737.58" y1="286.7" x2="737.58" y2="489.6"/><line x1="575.5" y1="460.61" x2="778.1" y2="460.61"/><line x1="575.5" y1="431.63" x2="778.1" y2="431.63"/><line x1="575.5" y1="402.64" x2="778.1" y2="402.64"/><line x1="575.5" y1="373.66" x2="778.1" y2="373.66"/><line x1="575.5" y1="344.67" x2="778.1" y2="344.67"/><line x1="575.5" y1="315.69" x2="778.1" y2="315.69"/></g>
<polyline points="575.50,304.00 585.70,319.90 605.40,319.70 616.20,320.70 634.80,325.20 656.40,333.00 670.00,338.80 681.80,343.75 697.10,353.20 709.30,362.40 722.00,373.60 737.80,388.00 748.60,396.80 757.40,407.60 768.20,417.40 778.00,422.50" fill="none" stroke="#30309c" stroke-width="1.15" stroke-linejoin="round"/>
<polyline points="575.50,333.00 577.90,342.90 583.75,362.50 587.70,380.00 590.60,391.80 591.60,402.60 594.60,423.20 599.50,445.80 604.40,453.70 609.30,459.60 616.20,462.50 627.00,467.40" fill="none" stroke="#2e7c2e" stroke-width="1.15" stroke-linejoin="round"/>
<rect x="575.5" y="286.7" width="202.60" height="202.90" fill="none" stroke="#000" stroke-width="1.2"/>
<path d="M575.50,489.6v-2.8M575.50,286.7v2.8M616.02,489.6v-2.8M616.02,286.7v2.8M656.54,489.6v-2.8M656.54,286.7v2.8M697.06,489.6v-2.8M697.06,286.7v2.8M737.58,489.6v-2.8M737.58,286.7v2.8M778.10,489.6v-2.8M778.10,286.7v2.8M575.5,489.60h2.8M778.1,489.60h-2.8M575.5,460.61h2.8M778.1,460.61h-2.8M575.5,431.63h2.8M778.1,431.63h-2.8M575.5,402.64h2.8M778.1,402.64h-2.8M575.5,373.66h2.8M778.1,373.66h-2.8M575.5,344.67h2.8M778.1,344.67h-2.8M575.5,315.69h2.8M778.1,315.69h-2.8M575.5,286.70h2.8M778.1,286.70h-2.8M575.5,480.87h1.4M778.1,480.87h-1.4M575.5,475.77h1.4M778.1,475.77h-1.4M575.5,472.15h1.4M778.1,472.15h-1.4M575.5,469.34h1.4M778.1,469.34h-1.4M575.5,467.04h1.4M778.1,467.04h-1.4M575.5,465.10h1.4M778.1,465.10h-1.4M575.5,463.42h1.4M778.1,463.42h-1.4M575.5,461.94h1.4M778.1,461.94h-1.4M575.5,451.89h1.4M778.1,451.89h-1.4M575.5,446.78h1.4M778.1,446.78h-1.4M575.5,443.16h1.4M778.1,443.16h-1.4M575.5,440.35h1.4M778.1,440.35h-1.4M575.5,438.06h1.4M778.1,438.06h-1.4M575.5,436.12h1.4M778.1,436.12h-1.4M575.5,434.44h1.4M778.1,434.44h-1.4M575.5,432.95h1.4M778.1,432.95h-1.4M575.5,422.90h1.4M778.1,422.90h-1.4M575.5,417.80h1.4M778.1,417.80h-1.4M575.5,414.18h1.4M778.1,414.18h-1.4M575.5,411.37h1.4M778.1,411.37h-1.4M575.5,409.07h1.4M778.1,409.07h-1.4M575.5,407.13h1.4M778.1,407.13h-1.4M575.5,405.45h1.4M778.1,405.45h-1.4M575.5,403.97h1.4M778.1,403.97h-1.4M575.5,393.92h1.4M778.1,393.92h-1.4M575.5,388.81h1.4M778.1,388.81h-1.4M575.5,385.19h1.4M778.1,385.19h-1.4M575.5,382.38h1.4M778.1,382.38h-1.4M575.5,380.09h1.4M778.1,380.09h-1.4M575.5,378.15h1.4M778.1,378.15h-1.4M575.5,376.47h1.4M778.1,376.47h-1.4M575.5,374.98h1.4M778.1,374.98h-1.4M575.5,364.93h1.4M778.1,364.93h-1.4M575.5,359.83h1.4M778.1,359.83h-1.4M575.5,356.21h1.4M778.1,356.21h-1.4M575.5,353.40h1.4M778.1,353.40h-1.4M575.5,351.10h1.4M778.1,351.10h-1.4M575.5,349.16h1.4M778.1,349.16h-1.4M575.5,347.48h1.4M778.1,347.48h-1.4M575.5,346.00h1.4M778.1,346.00h-1.4M575.5,335.95h1.4M778.1,335.95h-1.4M575.5,330.84h1.4M778.1,330.84h-1.4M575.5,327.22h1.4M778.1,327.22h-1.4M575.5,324.41h1.4M778.1,324.41h-1.4M575.5,322.12h1.4M778.1,322.12h-1.4M575.5,320.18h1.4M778.1,320.18h-1.4M575.5,318.49h1.4M778.1,318.49h-1.4M575.5,317.01h1.4M778.1,317.01h-1.4M575.5,306.96h1.4M778.1,306.96h-1.4M575.5,301.86h1.4M778.1,301.86h-1.4M575.5,298.23h1.4M778.1,298.23h-1.4M575.5,295.43h1.4M778.1,295.43h-1.4M575.5,293.13h1.4M778.1,293.13h-1.4M575.5,291.19h1.4M778.1,291.19h-1.4M575.5,289.51h1.4M778.1,289.51h-1.4M575.5,288.03h1.4M778.1,288.03h-1.4" stroke="#000" stroke-width="0.8" fill="none"/>
<text x="602.57" y="283.90" font-size="8.80" textLength="27.67" lengthAdjust="spacingAndGlyphs" fill="#111" stroke="#111" stroke-width="0.12" style='font-family:"Liberation Sans", sans-serif' >MNIST</text><text x="632.82" y="283.90" font-size="8.80" textLength="43.47" lengthAdjust="spacingAndGlyphs" fill="#111" stroke="#111" stroke-width="0.12" style='font-family:"Liberation Sans", sans-serif' >Multilayer</text><text x="678.96" y="283.90" font-size="8.80" textLength="28.63" lengthAdjust="spacingAndGlyphs" fill="#111" stroke="#111" stroke-width="0.12" style='font-family:"Liberation Sans", sans-serif' >Neural</text><text x="710.60" y="283.90" font-size="8.80" textLength="40.96" lengthAdjust="spacingAndGlyphs" fill="#111" stroke="#111" stroke-width="0.12" style='font-family:"Liberation Sans", sans-serif' >Networks</text>
<rect x="718.4" y="290.7" width="56.1" height="27" fill="#fff" stroke="#222" stroke-width="1"/>
<line x1="724" y1="298.2" x2="737" y2="298.2" stroke="#6262c4" stroke-width="1.6"/>
<line x1="724" y1="311.2" x2="737" y2="311.2" stroke="#559a55" stroke-width="1.6"/>
<text x="746.23" y="301.10" font-size="8.80" textLength="16.66" lengthAdjust="spacingAndGlyphs" fill="#222" stroke="#222" stroke-width="0.12" style='font-family:"Liberation Sans", sans-serif' >SFO</text>
<text x="746.58" y="314.10" font-size="8.80" textLength="24.85" lengthAdjust="spacingAndGlyphs" fill="#222" stroke="#222" stroke-width="0.12" style='font-family:"Liberation Sans", sans-serif' >Adam</text>
<text x="559.36" y="290.00" font-size="8.20" textLength="9.37" lengthAdjust="spacingAndGlyphs" fill="#111" stroke="#111" stroke-width="0.12" style='font-family:"Liberation Sans", sans-serif' >10</text>
<text x="568.53" y="286.30" font-size="6.20" textLength="2.71" lengthAdjust="spacingAndGlyphs" fill="#111" stroke="#111" stroke-width="0.12" style='font-family:"Liberation Sans", sans-serif' >1</text>
<text x="559.36" y="318.99" font-size="8.20" textLength="9.37" lengthAdjust="spacingAndGlyphs" fill="#111" stroke="#111" stroke-width="0.12" style='font-family:"Liberation Sans", sans-serif' >10</text>
<text x="568.46" y="315.59" font-size="6.20" textLength="3.37" lengthAdjust="spacingAndGlyphs" fill="#111" stroke="#111" stroke-width="0.12" style='font-family:"Liberation Sans", sans-serif' >0</text>
<text x="557.27" y="347.97" font-size="8.20" textLength="9.15" lengthAdjust="spacingAndGlyphs" fill="#111" stroke="#111" stroke-width="0.12" style='font-family:"Liberation Sans", sans-serif' >10</text>
<text x="565.72" y="344.57" font-size="6.20" textLength="5.59" lengthAdjust="spacingAndGlyphs" fill="#111" stroke="#111" stroke-width="0.12" style='font-family:"Liberation Sans", sans-serif' >-1</text>
<text x="557.27" y="376.96" font-size="8.20" textLength="9.15" lengthAdjust="spacingAndGlyphs" fill="#111" stroke="#111" stroke-width="0.12" style='font-family:"Liberation Sans", sans-serif' >10</text>
<text x="565.72" y="373.56" font-size="6.20" textLength="5.60" lengthAdjust="spacingAndGlyphs" fill="#111" stroke="#111" stroke-width="0.12" style='font-family:"Liberation Sans", sans-serif' >-2</text>
<text x="557.27" y="405.94" font-size="8.20" textLength="9.15" lengthAdjust="spacingAndGlyphs" fill="#111" stroke="#111" stroke-width="0.12" style='font-family:"Liberation Sans", sans-serif' >10</text>
<text x="565.72" y="402.54" font-size="6.20" textLength="5.55" lengthAdjust="spacingAndGlyphs" fill="#111" stroke="#111" stroke-width="0.12" style='font-family:"Liberation Sans", sans-serif' >-3</text>
<text x="557.27" y="434.93" font-size="8.20" textLength="9.15" lengthAdjust="spacingAndGlyphs" fill="#111" stroke="#111" stroke-width="0.12" style='font-family:"Liberation Sans", sans-serif' >10</text>
<text x="565.73" y="431.53" font-size="6.20" textLength="5.45" lengthAdjust="spacingAndGlyphs" fill="#111" stroke="#111" stroke-width="0.12" style='font-family:"Liberation Sans", sans-serif' >-4</text>
<text x="557.27" y="463.91" font-size="8.20" textLength="9.15" lengthAdjust="spacingAndGlyphs" fill="#111" stroke="#111" stroke-width="0.12" style='font-family:"Liberation Sans", sans-serif' >10</text>
<text x="565.72" y="460.51" font-size="6.20" textLength="5.54" lengthAdjust="spacingAndGlyphs" fill="#111" stroke="#111" stroke-width="0.12" style='font-family:"Liberation Sans", sans-serif' >-5</text>
<text x="557.27" y="492.90" font-size="8.20" textLength="9.15" lengthAdjust="spacingAndGlyphs" fill="#111" stroke="#111" stroke-width="0.12" style='font-family:"Liberation Sans", sans-serif' >10</text>
<text x="565.72" y="489.50" font-size="6.20" textLength="5.55" lengthAdjust="spacingAndGlyphs" fill="#111" stroke="#111" stroke-width="0.12" style='font-family:"Liberation Sans", sans-serif' >-6</text>
<text x="573.94" y="497.10" font-size="7.40" textLength="4.12" lengthAdjust="spacingAndGlyphs" fill="#111" stroke="#111" stroke-width="0.12" style='font-family:"Liberation Sans", sans-serif' >0</text>
<text x="612.36" y="497.10" font-size="7.40" textLength="8.23" lengthAdjust="spacingAndGlyphs" fill="#111" stroke="#111" stroke-width="0.12" style='font-family:"Liberation Sans", sans-serif' >20</text>
<text x="652.98" y="497.10" font-size="7.40" textLength="8.23" lengthAdjust="spacingAndGlyphs" fill="#111" stroke="#111" stroke-width="0.12" style='font-family:"Liberation Sans", sans-serif' >40</text>
<text x="693.40" y="497.10" font-size="7.40" textLength="8.23" lengthAdjust="spacingAndGlyphs" fill="#111" stroke="#111" stroke-width="0.12" style='font-family:"Liberation Sans", sans-serif' >60</text>
<text x="733.95" y="497.10" font-size="7.40" textLength="8.23" lengthAdjust="spacingAndGlyphs" fill="#111" stroke="#111" stroke-width="0.12" style='font-family:"Liberation Sans", sans-serif' >80</text>
<text x="772.29" y="497.10" font-size="7.40" textLength="12.35" lengthAdjust="spacingAndGlyphs" fill="#111" stroke="#111" stroke-width="0.12" style='font-family:"Liberation Sans", sans-serif' >100</text>
<text x="640.05" y="505.60" font-size="7.70" textLength="40.81" lengthAdjust="spacingAndGlyphs" fill="#111" stroke="#111" stroke-width="0.12" style='font-family:"Liberation Sans", sans-serif' >normalized</text><text x="683.65" y="505.60" font-size="7.70" textLength="30.93" lengthAdjust="spacingAndGlyphs" fill="#111" stroke="#111" stroke-width="0.12" style='font-family:"Liberation Sans", sans-serif' >walltime</text>
<g transform="translate(553.6,388.15) rotate(-90)"><text x="-22.63" y="0.00" font-size="7.70" textLength="27.87" lengthAdjust="spacingAndGlyphs" fill="#111" stroke="#111" stroke-width="0.12" style='font-family:"Liberation Sans", sans-serif' >training</text><text x="7.71" y="0.00" font-size="7.70" textLength="14.85" lengthAdjust="spacingAndGlyphs" fill="#111" stroke="#111" stroke-width="0.12" style='font-family:"Liberation Sans", sans-serif' >cost</text></g>
<g fill="none" stroke="#b0b0b0" stroke-width="1.8" stroke-linecap="butt" stroke-linejoin="miter"><path d="M676.5,518.5 L673.8,524.5 M674.7,522 H683.5 M673.2,528.2 H685.3 M679.2,522 V528.5 Q678.8,533 673.8,537 M680.2,531 L684.3,535.2"/><path d="M686.8,520 V535.3 M686.8,520.5 H694.4 V535.8 M686.8,534.3 H694.4"/><path d="M700.7,520.8 L719.3,518.2 M703,523.5 L704.9,526.8 M718.6,522 L715.8,526.3 M698.5,528.6 H720.8 M709,520.5 V536.5 Q709,538.5 705.5,538"/></g>
<text x="730.16" y="534.60" font-size="24.00" textLength="22.45" lengthAdjust="spacingAndGlyphs" fill="#acacac" stroke="#acacac" stroke-width="0" style='font-family:"Liberation Sans", sans-serif' >@</text>
<text x="753.04" y="535.20" font-size="22.50" textLength="34.47" lengthAdjust="spacingAndGlyphs" fill="#acacac" stroke="#acacac" stroke-width="0" style='font-family:"Liberation Sans", sans-serif' >sisi</text>
<text x="666.31" y="546.80" font-size="23.50" textLength="28.98" lengthAdjust="spacingAndGlyphs" fill="#000" stroke="#000" stroke-width="0" style='font-family:"Liberation Serif", serif' >(b)</text>
</svg></body></html>
